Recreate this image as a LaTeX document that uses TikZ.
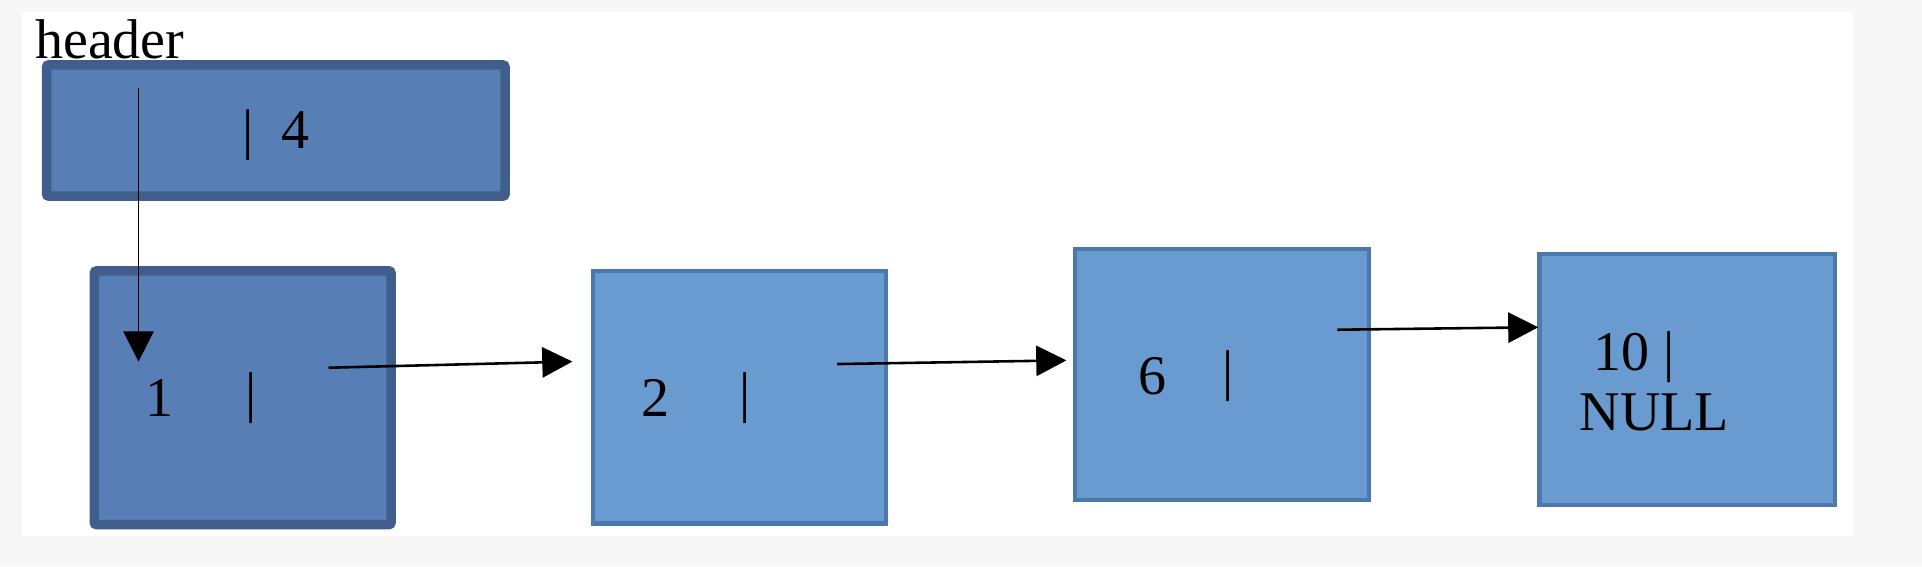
\documentclass[tikz,border=0pt]{standalone}
\usepackage{fontspec}
\setmainfont{Liberation Serif}
\usepackage{xcolor}
\usetikzlibrary{arrows.meta,positioning}
\definecolor{pagegray}{HTML}{F7F7F7}
\definecolor{headfill}{HTML}{587EB6}
\definecolor{headline}{HTML}{3F5E8C}
\definecolor{cellfill}{HTML}{6A9BD0}
\definecolor{cellline}{HTML}{4C79AC}
\tikzset{
  headbox/.style={draw=headline,fill=headfill,line width=2.2pt,rounded corners=0.5pt},
  cellbox/.style={draw=cellline,fill=cellfill,line width=1pt},
  lbl/.style={font=\fontsize{13}{14}\selectfont,inner sep=0pt},
  link/.style={-{Triangle[length=7pt,width=7pt]},line width=0.6pt},
}
\begin{document}
\begin{tikzpicture}
    % Background
    \fill[pagegray] (0,0) rectangle (15.68,4.62);
    \fill[white] (0.18,0.25) rectangle (15.12,4.52);

    % Boxes
    \draw[headbox] (0.38,3.02) rectangle (4.12,4.09);
    \draw[headbox] (0.77,0.34) rectangle (3.19,2.41);
    \draw[cellbox] (4.84,0.35) rectangle (7.23,2.41);
    \draw[cellbox] (8.77,0.54) rectangle (11.17,2.59);
    \draw[cellbox] (12.56,0.50) rectangle (14.97,2.55);

    % Labels
    \node[lbl,anchor=base west] (header) at (0.28,4.14) {header};
    \node[lbl] (hval) at (2.25,3.52) {|\ \ 4};
    \node[lbl] (one) at (1.30,1.37) {1};
    \node[lbl] (onebar) at (2.05,1.37) {|};
    \node[lbl] (two) at (5.35,1.37) {2};
    \node[lbl] (twobar) at (6.08,1.37) {|};
    \node[lbl] (six) at (9.40,1.55) {6};
    \node[lbl] (sixbar) at (10.02,1.55) {|};
    \node[lbl,align=left,anchor=north west] (last) at (12.88,1.92) {\ 10 |\\NULL};

    % Pointers
    \coordinate (hstart) at (1.13,3.90);
    \coordinate (hend) at (1.13,1.67);
    \coordinate (s1) at (2.68,1.62);
    \coordinate (e1) at (4.67,1.67);
    \coordinate (s2) at (6.83,1.65);
    \coordinate (e2) at (8.70,1.68);
    \coordinate (s3) at (10.91,1.93);
    \coordinate (e3) at (12.55,1.95);
    \draw[link,line width=0.4pt] (hstart) -- (hend);
    \draw[link] (s1) -- (e1);
    \draw[link] (s2) -- (e2);
    \draw[link] (s3) -- (e3);
\end{tikzpicture}
\end{document}
